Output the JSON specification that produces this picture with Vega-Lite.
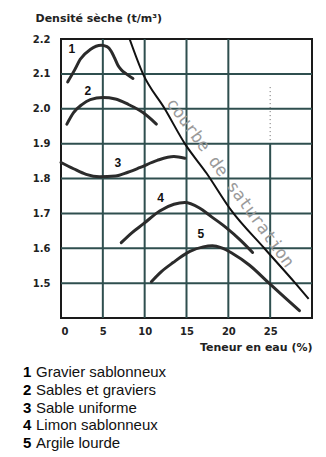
{
  "$schema": "https://vega.github.io/schema/vega-lite/v6.json",
  "padding": {"left": 23, "top": 11, "right": 5, "bottom": 5},
  "background": "white",
  "config": {
    "font": "Liberation Sans",
    "concat": {"spacing": 10}
  },
  "datasets": {
    "curves": [
      {"curve": "1", "w": 0.8, "d": 2.077}, {"curve": "1", "w": 1.6, "d": 2.11}, {"curve": "1", "w": 2.3, "d": 2.142}, {"curve": "1", "w": 3.5, "d": 2.17}, {"curve": "1", "w": 4.8, "d": 2.182}, {"curve": "1", "w": 5.5, "d": 2.178}, {"curve": "1", "w": 6.0, "d": 2.165}, {"curve": "1", "w": 6.4, "d": 2.146}, {"curve": "1", "w": 6.8, "d": 2.125}, {"curve": "1", "w": 7.2, "d": 2.112}, {"curve": "1", "w": 7.8, "d": 2.1}, {"curve": "1", "w": 8.6, "d": 2.087},
      {"curve": "2", "w": 0.7, "d": 1.956}, {"curve": "2", "w": 1.5, "d": 1.989}, {"curve": "2", "w": 2.5, "d": 2.012}, {"curve": "2", "w": 3.5, "d": 2.026}, {"curve": "2", "w": 5.0, "d": 2.032}, {"curve": "2", "w": 6.5, "d": 2.028}, {"curve": "2", "w": 8.0, "d": 2.013}, {"curve": "2", "w": 9.8, "d": 1.989}, {"curve": "2", "w": 11.4, "d": 1.956},
      {"curve": "3", "w": 0.0, "d": 1.846}, {"curve": "3", "w": 1.5, "d": 1.828}, {"curve": "3", "w": 3.0, "d": 1.812}, {"curve": "3", "w": 4.6, "d": 1.805}, {"curve": "3", "w": 6.5, "d": 1.807}, {"curve": "3", "w": 8.0, "d": 1.818}, {"curve": "3", "w": 9.4, "d": 1.831}, {"curve": "3", "w": 11.5, "d": 1.852}, {"curve": "3", "w": 13.5, "d": 1.863}, {"curve": "3", "w": 14.8, "d": 1.858},
      {"curve": "4", "w": 7.2, "d": 1.616}, {"curve": "4", "w": 8.5, "d": 1.645}, {"curve": "4", "w": 9.8, "d": 1.669}, {"curve": "4", "w": 11.8, "d": 1.707}, {"curve": "4", "w": 13.5, "d": 1.726}, {"curve": "4", "w": 14.8, "d": 1.731}, {"curve": "4", "w": 16.5, "d": 1.716}, {"curve": "4", "w": 18.0, "d": 1.69}, {"curve": "4", "w": 19.7, "d": 1.66}, {"curve": "4", "w": 21.5, "d": 1.622}, {"curve": "4", "w": 22.9, "d": 1.588},
      {"curve": "5", "w": 10.8, "d": 1.504}, {"curve": "5", "w": 12.0, "d": 1.533}, {"curve": "5", "w": 13.4, "d": 1.559}, {"curve": "5", "w": 15.4, "d": 1.591}, {"curve": "5", "w": 17.0, "d": 1.604}, {"curve": "5", "w": 18.1, "d": 1.607}, {"curve": "5", "w": 19.2, "d": 1.601}, {"curve": "5", "w": 20.5, "d": 1.585}, {"curve": "5", "w": 22.5, "d": 1.552}, {"curve": "5", "w": 24.9, "d": 1.499}, {"curve": "5", "w": 26.8, "d": 1.458}, {"curve": "5", "w": 28.5, "d": 1.421}
    ],
    "saturation": [
      {"w": 8.2, "d": 2.2}, {"w": 9.8, "d": 2.1}, {"w": 12.4, "d": 2.0}, {"w": 14.8, "d": 1.9}, {"w": 17.4, "d": 1.815}, {"w": 20.3, "d": 1.71}, {"w": 24.3, "d": 1.6}, {"w": 28.0, "d": 1.5}, {"w": 29.6, "d": 1.455}
    ],
    "labels": [
      {"curve": "1", "w": 1.3, "d": 2.171}, {"curve": "2", "w": 3.2, "d": 2.051}, {"curve": "3", "w": 6.8, "d": 1.845}, {"curve": "4", "w": 11.9, "d": 1.744}, {"curve": "5", "w": 16.7, "d": 1.641}
    ],
    "hgrid": [
      {"g": 1.5, "a": 0, "b": 30}, {"g": 1.6, "a": 0, "b": 30}, {"g": 1.7, "a": 0, "b": 30}, {"g": 1.8, "a": 0, "b": 30}, {"g": 1.9, "a": 0, "b": 30}, {"g": 2.0, "a": 0, "b": 30}, {"g": 2.1, "a": 0, "b": 30}
    ],
    "vgrid": [
      {"g": 5, "a": 1.4, "b": 2.2}, {"g": 10, "a": 1.4, "b": 2.2}, {"g": 15, "a": 1.4, "b": 2.2}, {"g": 20, "a": 1.4, "b": 2.2}, {"g": 25, "a": 1.4, "b": 1.9}
    ],
    "legend": [
      {"n": "1", "name": "Gravier sablonneux"}, {"n": "2", "name": "Sables et graviers"}, {"n": "3", "name": "Sable uniforme"}, {"n": "4", "name": "Limon sablonneux"}, {"n": "5", "name": "Argile lourde"}
    ]
  },
  "vconcat": [
    {
      "width": 251,
      "height": 279,
      "view": {"stroke": "#1a1a1a", "strokeWidth": 2},
      "encoding": {
        "x": {"field": "w", "type": "quantitative", "scale": {"domain": [0, 30], "nice": false},
          "axis": {"values": [0, 5, 10, 15, 20, 25], "grid": false, "ticks": false, "domain": false, "labelOverlap": false,
            "labelFont": "DejaVu Sans", "labelFontSize": 10, "labelFontWeight": "bold", "labelColor": "#222", "labelPadding": 8,
            "title": "Teneur en eau (%)", "titleFont": "DejaVu Sans", "titleAnchor": "end", "titleFontSize": 11, "titleFontWeight": "bold", "titleColor": "#222", "titlePadding": 5}},
        "y": {"field": "d", "type": "quantitative", "scale": {"domain": [1.4, 2.2], "nice": false, "zero": false},
          "axis": {"values": [1.5, 1.6, 1.7, 1.8, 1.9, 2.0, 2.1, 2.2], "format": ".1f", "grid": false, "ticks": false, "domain": false, "labelOverlap": false,
            "labelFont": "DejaVu Sans", "labelFontSize": 10, "labelFontWeight": "bold", "labelColor": "#222", "labelPadding": 11,
            "title": "Densité sèche (t/m³)", "titleFont": "DejaVu Sans", "titleAngle": 0, "titleAlign": "left", "titleBaseline": "middle", "titleX": -26, "titleY": -21,
            "titleFontSize": 11, "titleFontWeight": "bold", "titleColor": "#222"}}
      },
      "layer": [
        {
          "data": {"name": "hgrid"},
          "mark": {"type": "rule", "color": "darkslategray", "strokeWidth": 2},
          "encoding": {"y": {"field": "g", "type": "quantitative"}, "x": {"field": "a", "type": "quantitative"}, "x2": {"field": "b"}}
        },
        {
          "data": {"name": "vgrid"},
          "mark": {"type": "rule", "color": "darkslategray", "strokeWidth": 2},
          "encoding": {"x": {"field": "g", "type": "quantitative"}, "y": {"field": "a", "type": "quantitative"}, "y2": {"field": "b"}}
        },
        {
          "data": {"values": [{"w": 25, "d": 1.91, "d2": 2.07}]},
          "mark": {"type": "rule", "color": "#666", "strokeWidth": 1, "strokeDash": [1, 3]},
          "encoding": {"y2": {"field": "d2"}}
        },
        {
          "data": {"name": "curves"},
          "mark": {"type": "line", "interpolate": "monotone", "color": "#2b2b2b", "strokeWidth": 3, "strokeCap": "round"},
          "encoding": {"detail": {"field": "curve"}}
        },
        {
          "data": {"name": "saturation"},
          "mark": {"type": "line", "interpolate": "monotone", "color": "#111", "strokeWidth": 2, "clip": true},
          "encoding": {}
        },
        {
          "data": {"name": "labels"},
          "mark": {"type": "text", "fontWeight": "bold", "fontSize": 12, "color": "#111"},
          "encoding": {"text": {"field": "curve"}}
        },
        {
          "data": {"values": [{"w": 20.2, "d": 1.787, "t": "courbe de saturation"}]},
          "mark": {"type": "text", "angle": 54, "fontSize": 17, "font": "DejaVu Sans Mono", "color": "#9a9a9a", "align": "center", "baseline": "middle"},
          "encoding": {"text": {"field": "t"}}
        }
      ]
    },
    {
      "width": 251,
      "height": 89,
      "view": {"stroke": null},
      "data": {"name": "legend"},
      "encoding": {
        "y": {"field": "n", "type": "ordinal", "scale": {"type": "point", "padding": 0.5}, "axis": null}
      },
      "layer": [
        {
          "mark": {"type": "text", "align": "left", "baseline": "middle", "fontSize": 15, "fontWeight": "bold", "color": "#000", "dx": -38},
          "encoding": {"x": {"value": 0}, "text": {"field": "n"}}
        },
        {
          "mark": {"type": "text", "align": "left", "baseline": "middle", "fontSize": 15, "color": "#111", "dx": -25},
          "encoding": {"x": {"value": 0}, "text": {"field": "name"}}
        }
      ]
    }
  ]
}
